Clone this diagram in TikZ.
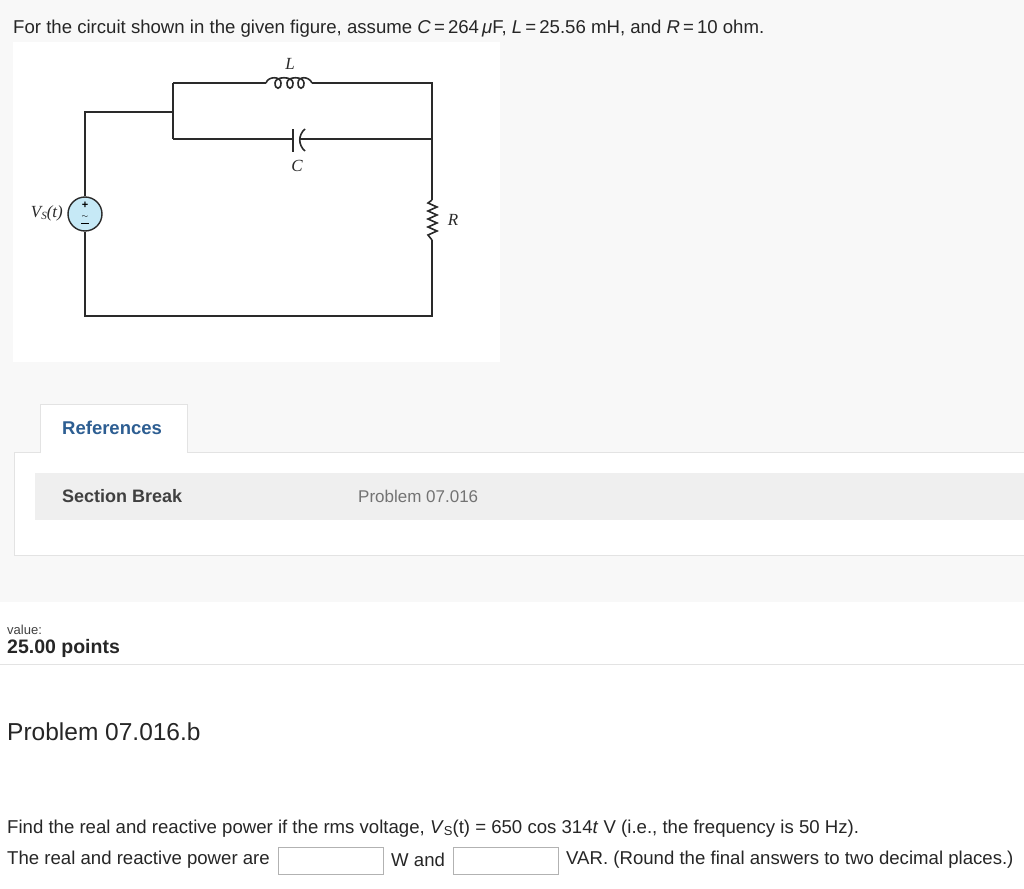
\documentclass[tikz,border=0pt]{standalone}
\usepackage{fontspec}
\setmainfont{Liberation Sans}
\newfontfamily\serif{Liberation Serif}
\definecolor{pagegray}{HTML}{F8F8F8}
\definecolor{linegray}{HTML}{E3E3E3}
\definecolor{barfill}{HTML}{EFEFEF}
\definecolor{refblue}{HTML}{2D5E92}
\definecolor{srcblue}{HTML}{C6E9F6}
\definecolor{wire}{HTML}{2A2A2A}
\begin{document}
\begin{tikzpicture}[x=1pt,y=-1pt,
  wire/.style={draw=wire,line width=1.6pt},
  lbl/.style={font=\serif\itshape\fontsize{17}{17}\selectfont,text=wire,inner sep=0},
  txt/.style={anchor=west,inner sep=0,font=\fontsize{18.6}{18.6}\selectfont,text=black!85}]
\useasboundingbox (0,0) rectangle (1024,888);
\fill[white] (0,0) rectangle (1024,888);
\fill[pagegray] (0,0) rectangle (1024,602);
\fill[white] (13,42) rectangle (500,362);
\node[txt] (title) at (13,29) {For the circuit shown in the given figure, assume \textit{C}\,=\,264\,\textit{μ}F, \textit{L}\,=\,25.56 mH, and \textit{R}\,=\,10 ohm.};
% circuit
\coordinate (tl) at (85,112); \coordinate (j) at (173,112);
\coordinate (ja) at (173,83); \coordinate (jb) at (173,139);
\coordinate (ra) at (432,83); \coordinate (rb) at (432,139);
\coordinate (br) at (432,316); \coordinate (bl) at (85,316);
\node[circle,draw=wire,line width=1.4pt,fill=srcblue,minimum size=34pt,inner sep=0] (src) at (85,214) {};
\node[inner sep=0,font=\fontsize{11}{11}\selectfont\bfseries] (plus) at (85,205) {+};
\node[inner sep=0,font=\fontsize{8}{8}\selectfont] (tilde) at (85,217) {$\sim$};
\draw[line width=1pt] (81,223)--(89,223);
\draw[wire] (src.north) -- (tl) -- (j);
\draw[wire] (ja) -- (jb);
\draw[wire] (ja) -- (266,83);
\draw[wire] (266,83) .. controls (268,76) and (281,76) .. (281,83)
  .. controls (281,90) and (275,90) .. (275,83) .. controls (275,76) and (293,76) .. (293,83)
  .. controls (293,90) and (287,90) .. (287,83) .. controls (287,76) and (304,76) .. (304,83)
  .. controls (304,90) and (298,90) .. (298,83) .. controls (298,76) and (309,76) .. (312,83);
\draw[wire] (312,83) -- (ra) -- (rb);
\draw[wire] (jb) -- (293,139);
\draw[wire] (293,129) -- (293,152);
\draw[wire] (305,129) .. controls (298,135) and (298,145) .. (305,151);
\draw[wire] (300,139) -- (rb) -- (432,200);
\draw[wire] (432,200) -- (428,203) -- (437,207) -- (428,211) -- (437,215) -- (428,219) -- (437,223) -- (428,227) -- (437,231) -- (428,235) -- (432,240);
\draw[wire] (432,240) -- (br) -- (bl) -- (src.south);
\node[lbl] (Llab) at (290,64) {L};
\node[lbl] (Clab) at (297,166) {C};
\node[lbl] (Rlab) at (453,220) {R};
\node[lbl,anchor=east] (Vlab) at (63,213) {V\raisebox{-2pt}{\fontsize{11}{11}\selectfont S}(\textit{t})};
% references panel
\draw[linegray,fill=white] (14,452) rectangle (1030,555);
\draw[linegray,fill=white] (40,453) -- (40,404) -- (187,404) -- (187,453);
\fill[white] (41,450) rectangle (186,456);
\node[anchor=west,inner sep=0,font=\bfseries\fontsize{18.5}{18.5}\selectfont,text=refblue] (ref) at (62,428) {References};
\fill[barfill] (35,473) rectangle (1024,520);
\node[anchor=west,inner sep=0,font=\bfseries\fontsize{18}{18}\selectfont,text=black!75] (sb) at (62,496) {Section Break};
\node[anchor=west,inner sep=0,font=\fontsize{17}{17}\selectfont,text=black!55] (pb) at (358,496) {Problem 07.016};
% value
\node[anchor=west,inner sep=0,font=\fontsize{13}{13}\selectfont,text=black!75] (val) at (7,630) {value:};
\node[anchor=west,inner sep=0,font=\bfseries\fontsize{19.5}{19.5}\selectfont,text=black!85] (pts) at (7,648) {25.00 points};
\draw[linegray,line width=1pt] (0,664) -- (1024,664);
\node[anchor=west,inner sep=0,font=\fontsize{24.5}{24.5}\selectfont,text=black!85] (prob) at (7,732) {Problem 07.016.b};
\node[txt] (q1) at (7,829) {Find the real and reactive power if the rms voltage, \textit{V}\raisebox{-2pt}{\fontsize{13}{13}\selectfont S}(t) = 650 cos 314\textit{t} V (i.e., the frequency is 50 Hz).};
\node[txt] (q2) at (7,860) {The real and reactive power are};
\node[draw=black!30,minimum width=105pt,minimum height=27pt,inner sep=0] (box1) at (330.5,860.5) {};
\node[txt] (wand) at (391,860) {W and};
\node[draw=black!30,minimum width=105pt,minimum height=27pt,inner sep=0] (box2) at (505.5,860.5) {};
\node[txt] (var) at (566,860) {VAR. (Round the final answers to two decimal places.)};
\end{tikzpicture}
\end{document}
